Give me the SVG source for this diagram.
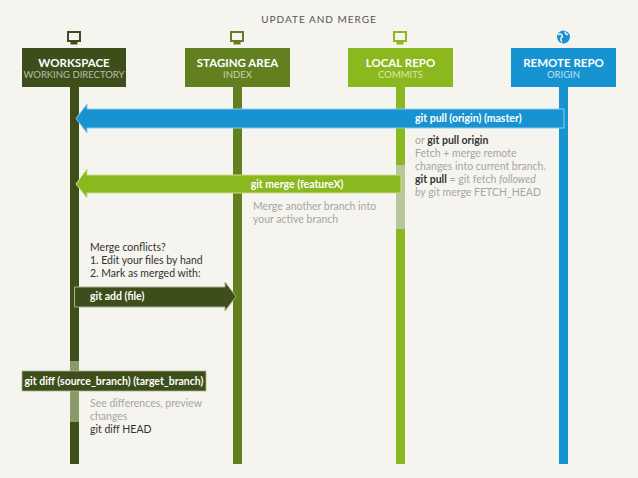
<svg xmlns="http://www.w3.org/2000/svg" width="638" height="478" viewBox="0 0 638 478">
<style>
text{font-family:Lato,"Open Sans",sans-serif;font-size:10.5px}
.h{font-weight:bold;font-size:11.5px;fill:#fff;text-anchor:middle}
.s{font-size:9.5px;text-anchor:middle}
.w{fill:#fff;font-weight:bold}
.g{fill:#a6a6a0}
.d{fill:#333}
.b{font-weight:bold;fill:#333}
</style>
<defs>
<g id="mon"><rect x="-6" y="-6" width="12" height="9" fill="none" stroke-width="2"/><rect x="-3" y="4" width="6" height="2"/></g>
</defs>
<rect width="638" height="478" fill="#f5f4ef"/>
<text x="319" y="23" text-anchor="middle" style="font-size:10px;letter-spacing:1px" fill="#555">UPDATE AND MERGE</text>
<g id="lanes">
<rect x="70" y="87" width="9" height="377" fill="#3d4e1a"/>
<rect x="70" y="361" width="9" height="10" fill="#8a9a6a"/>
<rect x="70" y="391" width="9" height="31" fill="#8a9a6a"/>
<rect x="233" y="87" width="9" height="377" fill="#62801f"/>
<rect x="396" y="87" width="9" height="377" fill="#8ab81e"/>
<rect x="396" y="165" width="9" height="64" fill="#b8c69a"/>
<rect x="559" y="87" width="9" height="377" fill="#1793d1"/>
</g>
<g id="workspace"><g transform="translate(74,38)" fill="#3d4e1a" stroke="#3d4e1a"><use href="#mon"/></g>
<rect x="22" y="48" width="104" height="39" fill="#3d4e1a"/><text class="h" x="74" y="67">WORKSPACE</text><text class="s" x="74" y="78" fill="#b8c0a8">WORKING DIRECTORY</text></g>
<g id="staging"><g transform="translate(237,38)" fill="#62801f" stroke="#62801f"><use href="#mon"/></g>
<rect x="185" y="48" width="105" height="39" fill="#62801f"/><text class="h" x="237.5" y="67">STAGING AREA</text><text class="s" x="237.5" y="78" fill="#c8d4a8">INDEX</text></g>
<g id="local"><g transform="translate(400,38)" fill="#8ab81e" stroke="#8ab81e"><use href="#mon"/></g>
<rect x="348" y="48" width="105" height="39" fill="#8ab81e"/><text class="h" x="400.5" y="67">LOCAL REPO</text><text class="s" x="400.5" y="78" fill="#d8e8b0">COMMITS</text></g>
<g id="remote"><circle cx="563.5" cy="37" r="6.5" fill="#1793d1"/><path d="M558 35 q2 -2 4 0 q1 2 -1 3 q-1 2 1 4 M565 31.5 q0 3 3 3" fill="none" stroke="#f5f4ef" stroke-width="1.4"/>
<rect x="511" y="48" width="105" height="39" fill="#1793d1"/><text class="h" x="563.5" y="67">REMOTE REPO</text><text class="s" x="563.5" y="78" fill="#bfe0f0">ORIGIN</text></g>
<g id="connectors">
<path d="M564 109 H87 V104 L76 118.5 L87 133 V128 H564 Z" fill="#1793d1" stroke="#8fcbe8" stroke-width="1"/>
<path d="M401 175 H87 V169 L76 184 L87 198 V193 H401 Z" fill="#8ab81e" stroke="#c8e090" stroke-width="1"/>
<path d="M74.5 287 H225 V282 L236 296.5 L225 311 V307 H74.5 Z" fill="#3d4e1a" stroke="#a8b490" stroke-width="1"/>
</g>
<text class="w" x="415" y="122">git pull (origin) (master)</text>
<text class="w" x="297" y="188" text-anchor="middle">git merge (featureX)</text>
<text class="w" x="90" y="300">git add (file)</text>
<g id="diff"><rect x="22" y="371" width="184" height="20" fill="#3d4e1a" stroke="#a8b490" stroke-width="0.8"/><text class="w" x="114" y="384.5" text-anchor="middle">git diff (source_branch) (target_branch)</text></g>
<text x="415" y="144"><tspan class="g">or </tspan><tspan class="b">git pull origin</tspan></text>
<text class="g" x="415" y="157">Fetch + merge remote</text>
<text class="g" x="415" y="170">changes into current branch.</text>
<text x="415" y="183"><tspan class="b">git pull</tspan><tspan class="g"> = git fetch </tspan><tspan class="g" font-style="italic">followed</tspan></text>
<text x="415" y="196"><tspan class="g" font-style="italic">by</tspan><tspan class="g"> git merge FETCH_HEAD</tspan></text>
<text class="g" x="253" y="210">Merge another branch into</text>
<text class="g" x="253" y="223">your active branch</text>
<text class="d" x="90" y="251">Merge conflicts?</text>
<text class="d" x="90" y="264">1. Edit your files by hand</text>
<text class="d" x="90" y="277">2. Mark as merged with:</text>
<text class="g" x="90" y="407">See differences, preview</text>
<text class="g" x="90" y="420">changes</text>
<text class="d" x="90" y="433">git diff HEAD</text>
</svg>
